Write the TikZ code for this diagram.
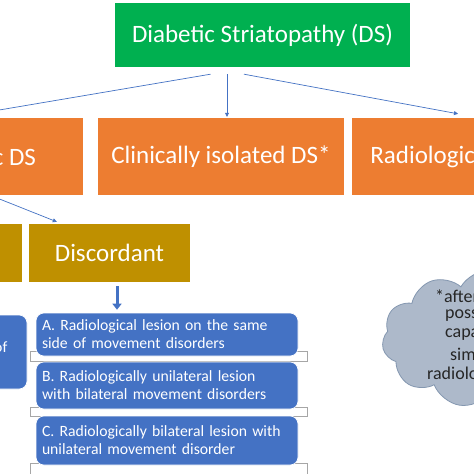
\documentclass[tikz,border=0pt]{standalone}
\usepackage{fontspec}
\setmainfont{Carlito}
\usetikzlibrary{shapes.symbols,arrows.meta,calc}
\definecolor{dsgreen}{HTML}{00B050}
\definecolor{dsorange}{HTML}{ED7D31}
\definecolor{dsgold}{HTML}{BF9000}
\definecolor{dsblue}{HTML}{4472C4}
\definecolor{cloudfill}{HTML}{ADB9CA}
\definecolor{cloudline}{HTML}{8497B0}
\tikzset{
  box/.style={rectangle, inner sep=0pt, text=white, font=\fontsize{25}{30}\selectfont},
  greenbox/.style={box, fill=dsgreen},
  orangebox/.style={box, fill=dsorange, minimum height=77pt},
  goldbox/.style={box, fill=dsgold, minimum height=58pt},
  bluebox/.style={rectangle, rounded corners=8pt, fill=dsblue, draw=white, line width=0.6pt,
     text=white, font=\fontsize{15.7}{18}\selectfont, align=left, text width=250pt,
     inner xsep=6pt, inner ysep=0pt, minimum width=262pt},
  strip/.style={fill=white, draw=gray!70, line width=0.5pt},
  thinarrow/.style={draw=dsblue, line width=0.7pt, -{Triangle[width=4pt,length=4pt]}},
  thickarrow/.style={draw=dsblue, line width=3pt, -{Triangle[width=9pt,length=6pt]}},
  cloudtext/.style={anchor=west, text=black!85, font=\fontsize{18}{19}\selectfont, inner sep=0pt},
}
\begin{document}
\begin{tikzpicture}[x=1pt,y=-1pt]
\path[use as bounding box] (0,0) rectangle (474,474);
\clip (0,0) rectangle (474,474);
\fill[white] (0,0) rectangle (474,474);

% top
\node[greenbox, minimum width=295pt, minimum height=64pt] (ds) at (262.5,35) {Diabetic Striatopathy (DS)};

% orange row
\node[orangebox, minimum width=193.5pt] (classic) at (-13.75,156.5) {Classic DS};
\node[orangebox, minimum width=246pt] (clin) at (221,156.5) {Clinically isolated DS*};
\node[orangebox, minimum width=294pt] (radio) at (499,156.5) {Radiologically isolated DS};

% gold row
\node[goldbox, minimum width=161pt] (conc) at (-58.5,253) {};
\node[goldbox, minimum width=161pt] (disc) at (109.5,253) {Discordant};

% arrows from top
\draw[thinarrow] ($(ds.south)+(-52,7)$) -- ($(classic.north)+(-33,0)$);
\draw[thinarrow] ($(ds.south)+(-35.5,7)$) -- ($(clin.north)+(6,-1)$);
\draw[thinarrow] ($(ds.south)+(-18.5,7)$) -- ($(radio.north)+(-41,-4)$);
\draw[thinarrow] ($(classic.south)+(8.75,2)$) -- ($(disc.north west)+(28,-2)$);

% strips behind blue boxes
\draw[strip] (30,351) rectangle (307,361);
\draw[strip] (30,407) rectangle (307,416);
\draw[strip] (30,463) rectangle (307,480);

% blue boxes
\node[bluebox, minimum height=74pt, minimum width=147pt, text width=133pt] (leftblue) at (-46.5,352) {};
\node[anchor=base east, text=white, font=\fontsize{15.7}{18}\selectfont, inner sep=0pt] (leftof) at (7.5,352) {of};
\node[bluebox, minimum height=43pt] (ba) at (167,334.5) {A. Radiological lesion on the same\\side of movement disorders};
\node[bluebox, minimum height=47pt] (bb) at (167,385.5) {B. Radiologically unilateral lesion\\with bilateral movement disorders};
\node[bluebox, minimum height=49pt] (bc) at (167,440.5) {C. Radiologically bilateral lesion with\\unilateral movement disorder};

\draw[thickarrow] ($(disc.south)+(7.5,4)$) -- ($(ba.north)+(-50,-3)$);

% cloud
\node[cloud, cloud puffs=11, cloud puff arc=120, aspect=1.5, minimum width=216pt, minimum height=138pt,
      fill=cloudfill, draw=cloudline, line width=0.8pt] (note) at (490,339) {};
\node[cloudtext] (n1) at (435,296) {*after};
\node[cloudtext] (n2) at (445,316) {poss};
\node[cloudtext] (n3) at (445,335) {capa};
\node[cloudtext] (n4) at (450,354) {sim};
\node[cloudtext] (n5) at (427,373) {radiolo};
\end{tikzpicture}
\end{document}
